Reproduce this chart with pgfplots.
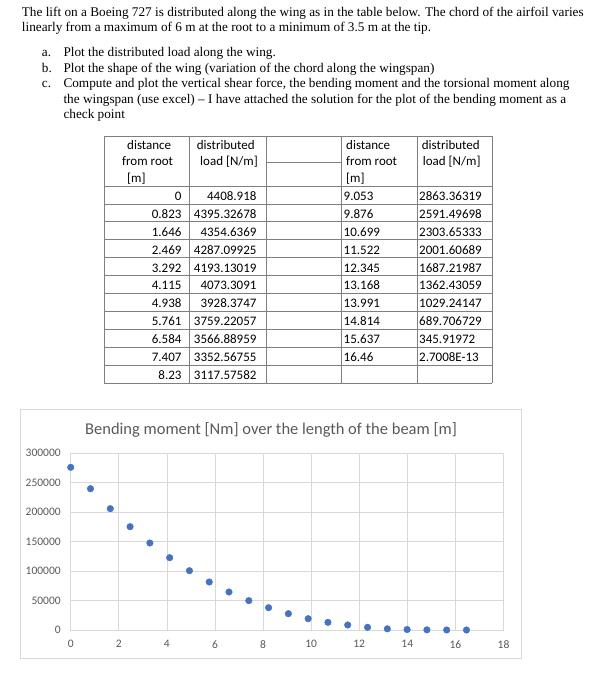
\documentclass[border=0pt]{standalone}
\usepackage{pgfplots}
\pgfplotsset{compat=1.18}
\usepackage{fontspec}
\setmainfont{Liberation Serif}
\newfontfamily\calibri{Carlito}
\definecolor{xlblue}{HTML}{4472C4}
\definecolor{xlgrid}{HTML}{D9D9D9}
\definecolor{xltext}{HTML}{595959}
\definecolor{tabline}{HTML}{7F7F7F}

\begin{document}
\begin{tikzpicture}[x=1pt,y=1pt]
\path (0,0) rectangle (599,700);

% question text
\tikzset{q/.style={anchor=base west, inner sep=0pt, font=\fontsize{13.25}{15}\selectfont}}
\node[q] at (21.7,683) {The lift on a Boeing 727 is distributed along the wing as in the table below. The chord of the airfoil varies};
\node[q] at (21.7,668) {linearly from a maximum of 6 m at the root to a minimum of 3.5 m at the tip.};
\node[q] at (41.7,643) {a.};
\node[q] at (63.3,643) {Plot the distributed load along the wing.};
\node[q] at (41.7,627) {b.};
\node[q] at (63.3,627) {Plot the shape of the wing (variation of the chord along the wingspan)};
\node[q] at (41.7,612) {c.};
\node[q] at (63.3,612) {Compute and plot the vertical shear force, the bending moment and the torsional moment along};
\node[q] at (63.3,596) {the wingspan (use excel) -- I have attached the solution for the plot of the bending moment as a};
\node[q] at (63.3,581) {check point};

% table grid
\begin{scope}[draw=tabline, line width=0.6pt]
  \foreach \xx in {104,189,266,341,417,492} \draw (\xx,564) -- (\xx,317);
  \draw (104,564) -- (492,564);
  \draw (266,537.7) -- (341,537.7);
  \foreach \i in {0,...,11} \draw (104,{514-17.9*\i}) -- (492,{514-17.9*\i});
\end{scope}

% table text
\tikzset{tl/.style={anchor=base west, inner sep=0pt, font=\calibri\fontsize{13}{15}\selectfont},
         tr/.style={anchor=base east, inner sep=0pt, font=\calibri\fontsize{13}{15}\selectfont}}
\node[tl] at (127,550) {distance};
\node[tl] at (122,534) {from root};
\node[tl] at (127,517) {[m]};
\node[tl] at (196.7,550) {distributed};
\node[tl] at (200,534) {load [N/m]};
\node[tl] at (346,550) {distance};
\node[tl] at (346,534) {from root};
\node[tl] at (346,517) {[m]};
\node[tl] at (421.7,550) {distributed};
\node[tl] at (422.7,534) {load [N/m]};

\foreach \d/\l [count=\i from 0] in {0/4408.918, 0.823/4395.32678, 1.646/4354.6369, 2.469/4287.09925,
  3.292/4193.13019, 4.115/4073.3091, 4.938/3928.3747, 5.761/3759.22057, 6.584/3566.88959,
  7.407/3352.56755, 8.23/3117.57582}{
  \node[tr] at (181.7,{700-186-14.5-17.9*\i}) {\d};
  \node[tr] at (256.7,{700-186-14.5-17.9*\i}) {\l};
}
\foreach \d/\l [count=\i from 0] in {9.053/2863.36319, 9.876/2591.49698, 10.699/2303.65333,
  11.522/2001.60689, 12.345/1687.21987, 13.168/1362.43059, 13.991/1029.24147,
  14.814/689.706729, 15.637/345.91972, 16.46/2.7008E-13}{
  \node[tl] at (343.5,{700-186-14.5-17.9*\i}) {\d};
  \node[tl] at (419,{700-186-14.5-17.9*\i}) {\l};
}

% chart frame and title
\draw[xlgrid, line width=0.8pt] (20.7,290.7) rectangle (521.7,42);
\node[anchor=base, inner sep=0pt, text=xltext, font=\calibri\fontsize{16.5}{19}\selectfont] at (271,265) {Bending moment [Nm] over the length of the beam [m]};

\begin{axis}[
  at={(70.7pt,70pt)}, anchor=south west,
  scale only axis, width=432.8pt, height=176.7pt,
  xmin=0, xmax=18, ymin=0, ymax=300000,
  xtick distance=2, ytick distance=50000,
  scaled y ticks=false,
  /pgf/number format/fixed,
  /pgf/number format/assume math mode=true,
  /pgf/number format/1000 sep={},
  grid=major, grid style={xlgrid, line width=0.6pt},
  axis line style={xlgrid, line width=0.6pt},
  major tick length=0pt,
  tick label style={font=\calibri\fontsize{11.5}{13}\selectfont, text=xltext},
  yticklabel style={xshift=-6.5pt},
  xticklabel style={yshift=-7pt},
]
\addplot[only marks, mark=*, mark size=3.3pt, color=xlblue, mark options={draw=xlblue, fill=xlblue}] coordinates {
  (0,276200) (0.823,239900) (1.646,206000) (2.469,175400) (3.292,147700)
  (4.115,122800) (4.938,100700) (5.761,81500) (6.584,64500) (7.407,49800)
  (8.23,37900) (9.053,27700) (9.876,19200) (10.699,13000) (11.522,8500)
  (12.345,4500) (13.168,2000) (13.991,800) (14.814,250) (15.637,30) (16.46,0)
};
\end{axis}
\end{tikzpicture}
\end{document}
